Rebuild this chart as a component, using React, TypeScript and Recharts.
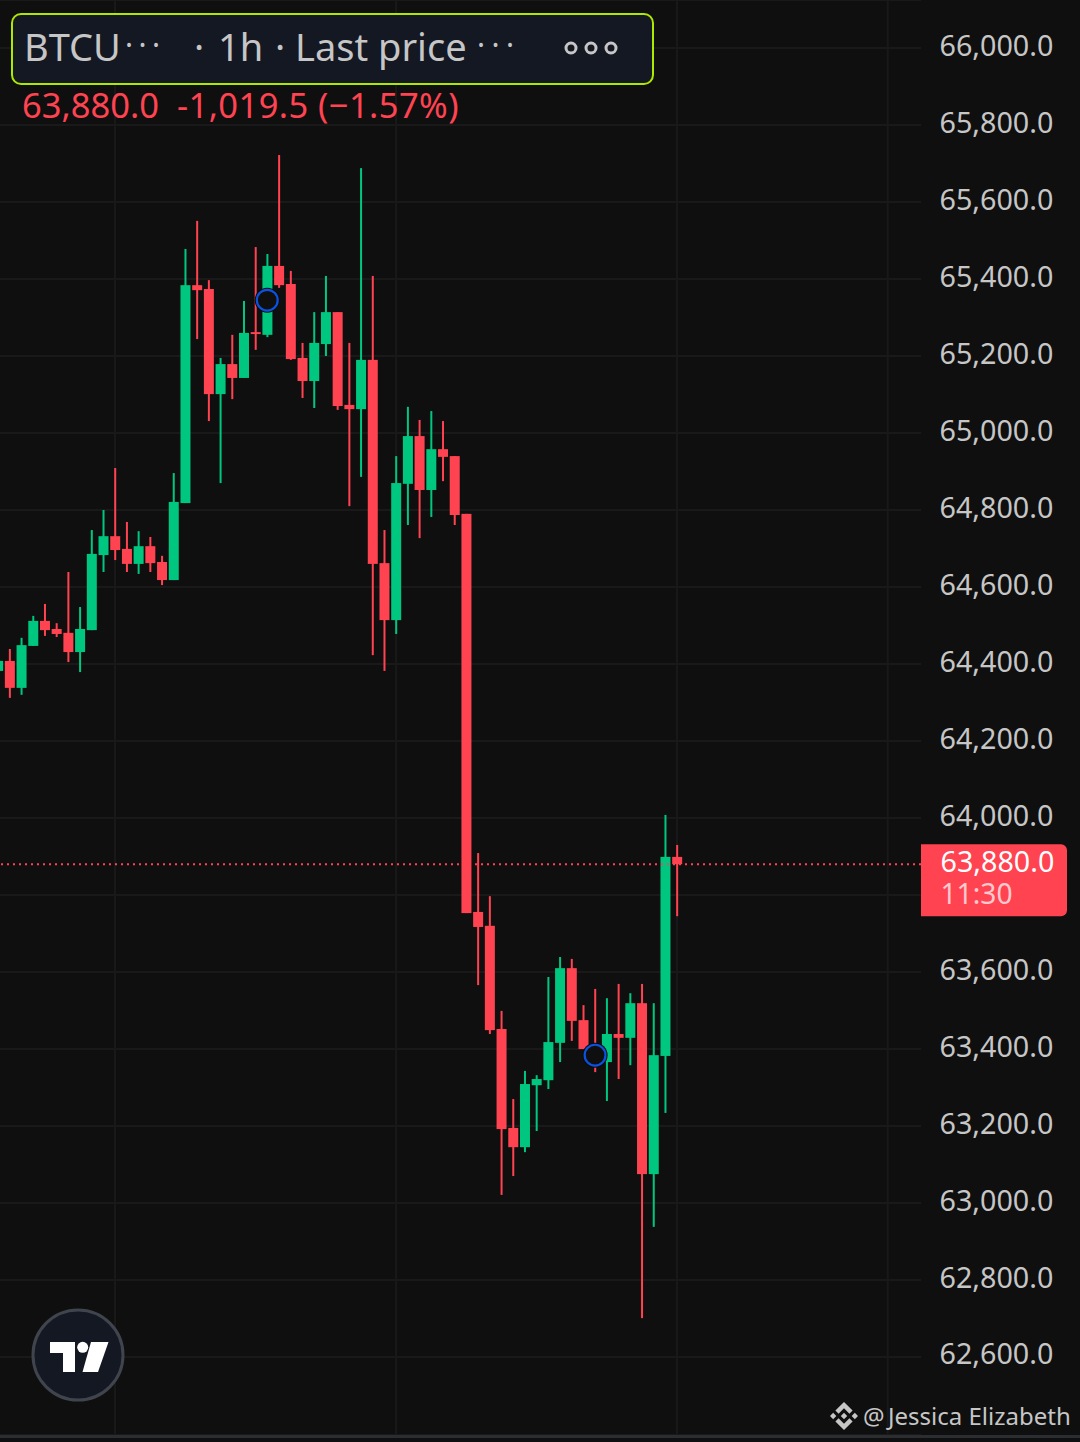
import React from 'react';
import {
  ComposedChart,
  Bar,
  XAxis,
  YAxis,
  CartesianGrid,
  ReferenceLine,
  ReferenceDot,
} from 'recharts';

const opens = [64382, 64408, 64338, 64447, 64512, 64491, 64481, 64431, 64488, 64683, 64732, 64699, 64660, 64706, 64665, 64618, 64818, 65384, 65374, 65101, 65179, 65143, 65262, 65255, 65434, 65387, 65195, 65135, 65231, 65314, 65073, 65062, 65190, 64662, 64514, 64868, 64992, 64852, 64958, 64940, 64790, 63756, 63720, 63452, 63195, 63145, 63306, 63319, 63416, 63610, 63475, 63397, 63366, 63439, 63429, 63519, 63075, 63382, 63899];
const highs = [64408, 64439, 64468, 64525, 64556, 64506, 64639, 64548, 64748, 64800, 64909, 64769, 64745, 64730, 64681, 64896, 65478, 65551, 65397, 65195, 65255, 65343, 65483, 65465, 65722, 65421, 65234, 65314, 65408, 65314, 65234, 65688, 65408, 64748, 64940, 65068, 65034, 65057, 65031, 64940, 64790, 63909, 63797, 63499, 63270, 63343, 63332, 63587, 63639, 63634, 63514, 63556, 63532, 63569, 63545, 63569, 63519, 64008, 63930];
const lows = [64382, 64312, 64320, 64447, 64473, 64470, 64405, 64379, 64488, 64639, 64670, 64639, 64634, 64639, 64605, 64618, 64818, 65244, 65031, 64870, 65088, 65143, 65216, 65249, 65377, 65190, 65091, 65065, 65200, 65060, 64810, 64886, 64423, 64382, 64478, 64761, 64727, 64782, 64875, 64761, 63753, 63566, 63439, 63021, 63070, 63132, 63187, 63296, 63366, 63421, 63400, 63340, 63265, 63322, 63358, 62701, 62938, 63234, 63745];
const closes = [64408, 64338, 64449, 64512, 64488, 64478, 64431, 64491, 64686, 64732, 64696, 64660, 64706, 64662, 64618, 64821, 65384, 65371, 65101, 65179, 65143, 65260, 65257, 65434, 65384, 65192, 65135, 65234, 65314, 65070, 65062, 65190, 64660, 64514, 64870, 64992, 64852, 64958, 64938, 64787, 63753, 63717, 63449, 63192, 63145, 63309, 63322, 63418, 63610, 63473, 63400, 63377, 63439, 63429, 63519, 63075, 63384, 63899, 63880];

const priceTicks = [62600, 62800, 63000, 63200, 63400, 63600, 63800, 64000, 64200, 64400, 64600, 64800, 65000, 65200, 65400, 65600, 65800, 66000];
const priceLabels = [62600, 62800, 63000, 63200, 63400, 63600, 64000, 64200, 64400, 64600, 64800, 65000, 65200, 65400, 65600, 65800, 66000];
const timeTicks = [10, 34, 58, 76];
const timeDomain = [0.171, 78.84];
const markers = [
  { index: 23, price: 65345 },
  { index: 51, price: 63384 },
];
const lastPrice = 63880;

const UP = '#00C77F';
const DOWN = '#FF4351';
const BG = '#0F0F0F';
const GRID = '#191919';
const TEXT = '#C6C6C6';
const FONT = '"Noto Sans", sans-serif';

const candles = opens.map((open, i) => ({
  index: i,
  open,
  close: closes[i],
  high: highs[i],
  low: lows[i],
  range: [lows[i], highs[i]],
}));

const fmt = (v: number) =>
  v.toLocaleString('en-US', { minimumFractionDigits: 1, maximumFractionDigits: 1 });

const Candle = (props: any) => {
  const { x, y, width, height, payload } = props;
  const { open, close, high, low } = payload;
  const perUnit = height / (high - low);
  const top = y + (high - Math.max(open, close)) * perUnit;
  const bottom = y + (high - Math.min(open, close)) * perUnit;
  const color = close >= open ? UP : DOWN;
  return (
    <g>
      <rect x={x + width / 2 - 1} y={y} width={2} height={height} fill={color} />
      <rect x={x} y={top} width={width} height={Math.max(bottom - top, 1)} fill={color} />
    </g>
  );
};

const PriceTick = (props: any) => {
  const { x, y, payload } = props;
  if (!priceLabels.includes(payload.value)) return null;
  return (
    <text x={x} y={y + 7.5} fill={TEXT} fontSize={28.7} fontFamily={FONT}>
      {fmt(payload.value)}
    </text>
  );
};

const PriceTag = (props: any) => {
  const { x, y, width } = props.viewBox;
  const left = x + width;
  return (
    <g>
      <path
        d={`M${left} ${y - 20}h140a6 6 0 0 1 6 6v60a6 6 0 0 1 -6 6h-140z`}
        fill={DOWN}
      />
      <text x={left + 19.5} y={y + 8} fill="#fff" fontSize={28.7} fontFamily={FONT}>
        {fmt(lastPrice)}
      </text>
      <text x={left + 19.5} y={y + 40} fill="rgba(255,255,255,0.72)" fontSize={28.2} fontFamily={FONT}>
        11:30
      </text>
    </g>
  );
};

const Marker = (props: any) => {
  const { cx, cy } = props;
  return (
    <g>
      <circle cx={cx} cy={cy} r={12.5} fill="#0A0A0A" />
      <circle cx={cx} cy={cy} r={10.4} fill={BG} stroke="#0B52E0" strokeWidth={2.2} />
    </g>
  );
};

const titleParts: [string, number][] = [
  ['BTCU', 24],
  ['·', 194],
  ['1h', 218],
  ['·', 275],
  ['Last price', 295],
];

const Header = () => (
  <>
    <div
      style={{
        position: 'absolute',
        left: 11,
        top: 13,
        width: 639,
        height: 68,
        background: '#141823',
        border: '2px solid #ACE800',
        borderRadius: 10,
      }}
    />
    {titleParts.map(([label, left]) => (
      <span
        key={`${label}-${left}`}
        style={{
          position: 'absolute',
          left,
          top: 20,
          fontFamily: FONT,
          fontSize: 38,
          lineHeight: '52px',
          color: TEXT,
          whiteSpace: 'pre',
        }}
      >
        {label}
      </span>
    ))}
    <span style={{ position: 'absolute', left: 125, top: 21, fontFamily: FONT, fontSize: 30, lineHeight: '48px', letterSpacing: 5.5, color: TEXT, whiteSpace: 'pre' }}>
      ···
    </span>
    <span style={{ position: 'absolute', left: 477, top: 21, fontFamily: FONT, fontSize: 30, lineHeight: '48px', letterSpacing: 6.5, color: TEXT, whiteSpace: 'pre' }}>
      ···
    </span>
    <svg style={{ position: 'absolute', left: 0, top: 0 }} width={660} height={90}>
      {[571, 591, 611].map((cx) => (
        <circle key={cx} cx={cx} cy={48} r={5} fill="none" stroke={TEXT} strokeWidth={3} />
      ))}
    </svg>
    <span style={{ position: 'absolute', left: 22, top: 82, fontFamily: FONT, fontSize: 34.5, lineHeight: '46px', color: DOWN, whiteSpace: 'pre' }}>
      63,880.0
    </span>
    <span style={{ position: 'absolute', left: 177, top: 82, fontFamily: FONT, fontSize: 34.5, lineHeight: '46px', letterSpacing: 0.42, color: DOWN, whiteSpace: 'pre' }}>
      -1,019.5 (−1.57%)
    </span>
  </>
);

const Footer = () => (
  <>
    <div style={{ position: 'absolute', left: 0, top: 1435, width: 1080, height: 3, background: '#2A2E33' }} />
    <svg style={{ position: 'absolute', left: 0, top: 1290 }} width={160} height={130}>
      <circle cx={78} cy={65} r={45} fill="#141823" stroke="#3F444D" strokeWidth={3} />
      <path d="M50 52h25v30h-12v-19h-13z" fill="#fff" />
      <circle cx={82.7} cy={57.3} r={5.5} fill="#fff" />
      <path d="M91 52h17.5l-10.500 30h-15.500z" fill="#fff" />
    </svg>
    <svg style={{ position: 'absolute', left: 830, top: 1402 }} width={28} height={28} viewBox="0 0 126.61 126.61">
      <path
        fill={TEXT}
        d="M38.73 53.2l24.59-24.58 24.6 24.6 14.3-14.31L63.32 0 24.42 38.9l14.31 14.3zM0 63.31l14.3-14.31 14.31 14.31-14.31 14.3L0 63.31zm38.73 10.1l24.59 24.59 24.6-24.6 14.31 14.29-38.9 38.91-38.91-38.88-.02-.02 14.33-14.29zm59.18-10.1l14.3-14.31 14.31 14.31-14.31 14.3-14.3-14.3zM77.83 63.3L63.32 48.78 52.59 59.51l-1.24 1.23-2.54 2.54 14.51 14.52 14.51-14.5z"
      />
    </svg>
    <span style={{ position: 'absolute', left: 863, top: 1399, fontFamily: FONT, fontSize: 24, lineHeight: '34px', color: TEXT }}>@</span>
    <span style={{ position: 'absolute', left: 888, top: 1399, fontFamily: FONT, fontSize: 24, lineHeight: '34px', color: TEXT, whiteSpace: 'pre' }}>
      Jessica Elizabeth
    </span>
  </>
);

export default function App() {
  return (
    <div style={{ position: 'absolute', left: 0, top: 0, width: 1080, height: 1442, background: BG, overflow: 'hidden' }}>
      <ComposedChart
        width={1080}
        height={1435}
        data={candles}
        margin={{ top: 0, right: 0, bottom: 0, left: 0 }}
      >
        <CartesianGrid
          stroke={GRID}
          strokeWidth={2}
          verticalCoordinatesGenerator={({ offset }: any) =>
            timeTicks.map(
              (t) => offset.left + ((t - timeDomain[0]) / (timeDomain[1] - timeDomain[0])) * offset.width
            )
          }
        />
        <XAxis
          dataKey="index"
          type="number"
          domain={timeDomain}
          allowDataOverflow
          ticks={timeTicks}
          height={0}
          tick={false}
          axisLine={false}
          tickLine={false}
        />
        <YAxis
          orientation="right"
          width={159}
          domain={[62397.4, 66124.7]}
          allowDataOverflow
          ticks={priceTicks}
          interval={0}
          axisLine={false}
          tickLine={false}
          tickMargin={0}
          tick={(p: any) => <PriceTick {...p} x={939.5} />}
        />
        <ReferenceLine
          y={lastPrice}
          stroke={DOWN}
          strokeWidth={2}
          strokeDasharray="2 4"
          label={<PriceTag />}
        />
        <Bar dataKey="range" barSize={10} shape={<Candle />} isAnimationActive={false} />
        {markers.map((m) => (
          <ReferenceDot key={m.index} x={m.index} y={m.price} r={10} shape={<Marker />} />
        ))}
      </ComposedChart>
      <Header />
      <Footer />
    </div>
  );
}
